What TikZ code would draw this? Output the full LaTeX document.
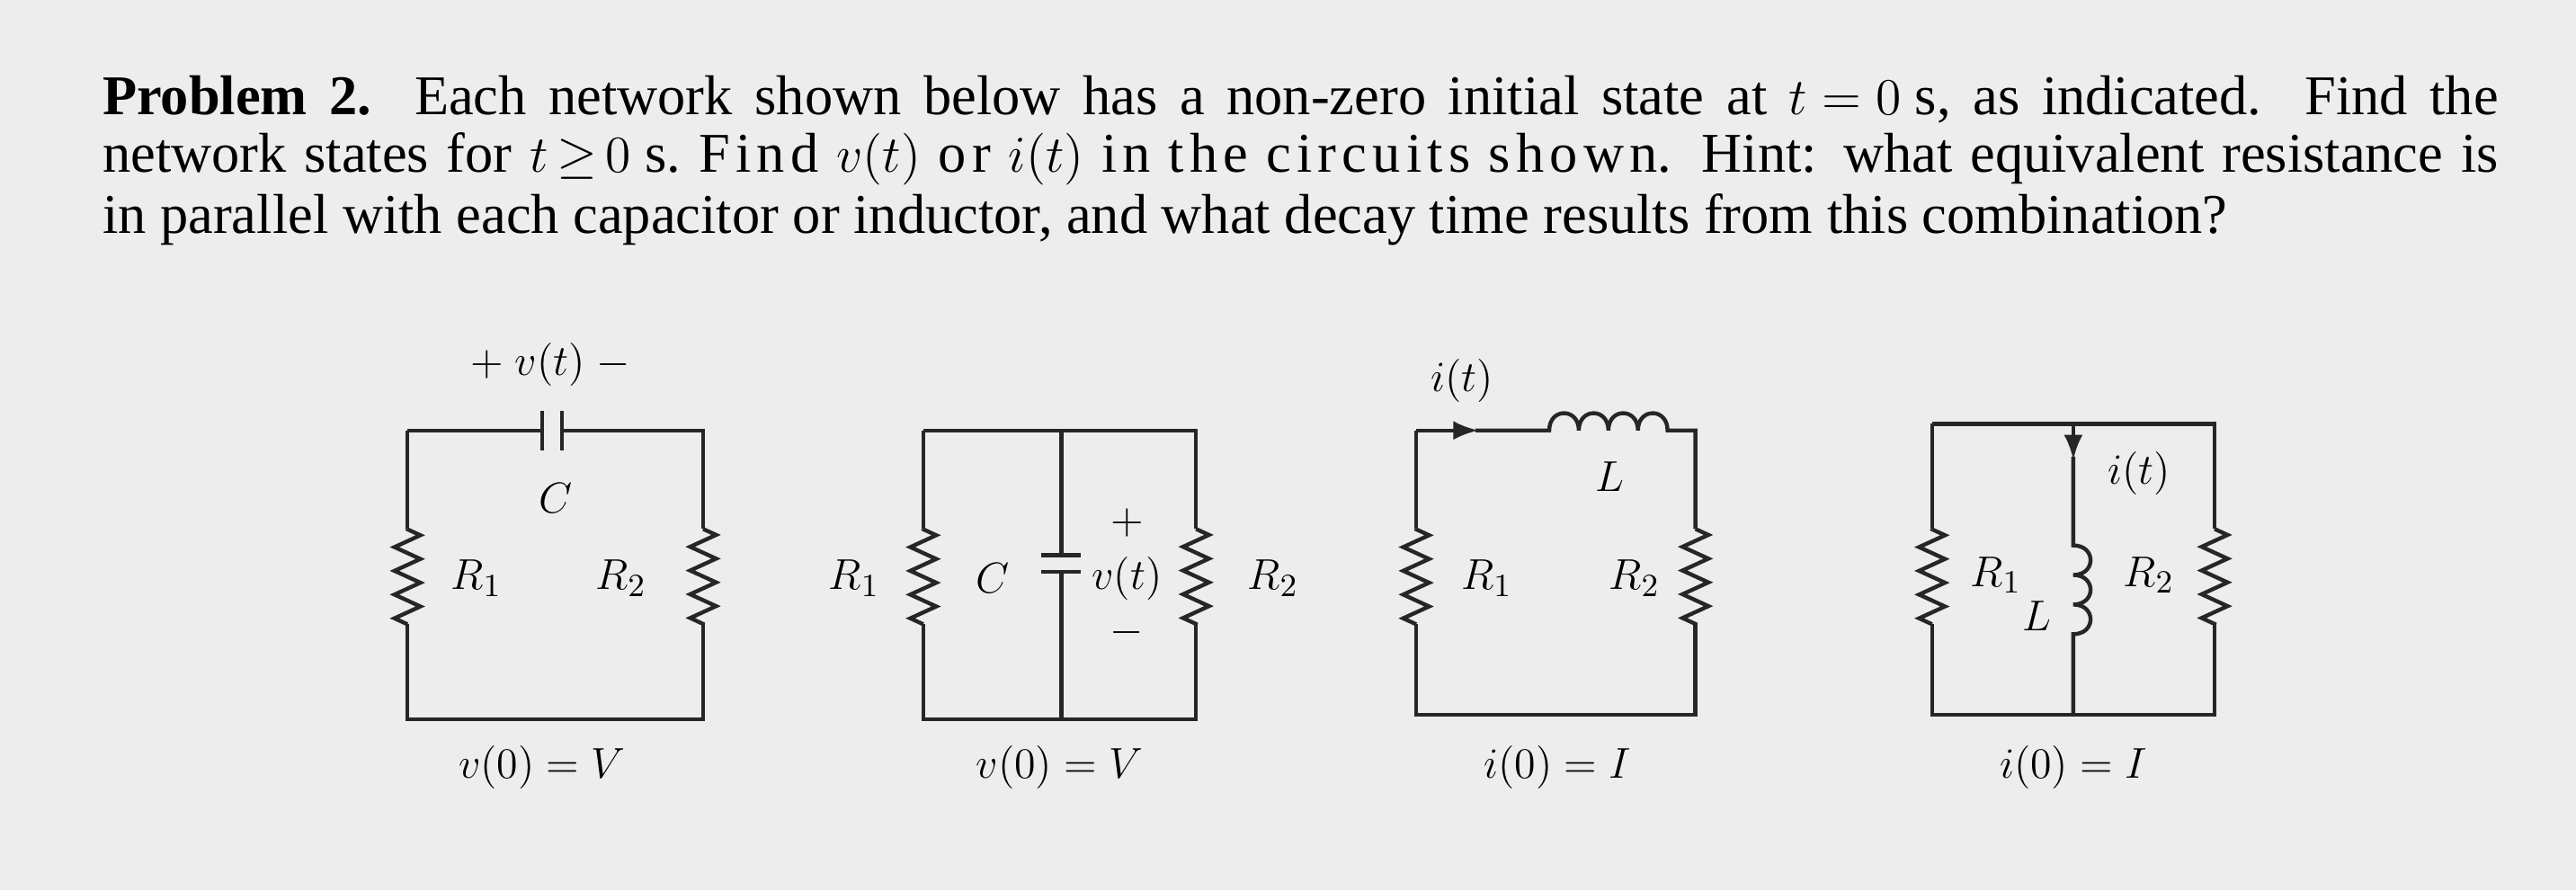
\documentclass[tikz,border=0pt]{standalone}
\usepackage{fontspec}
\setmainfont{Liberation Serif}
\usetikzlibrary{decorations.pathmorphing,arrows.meta}
\newcommand{\ls}{\hspace{0.1em}}
\tikzset{
  wire/.style={line width=1.1pt,black!85},
  res/.style={wire,decorate,decoration={zigzag,amplitude=3.6pt,segment length=6.6pt}},
  lbl/.style={font=\fontsize{12.5}{14}\selectfont},
  txt/.style={anchor=base west,inner sep=0pt,font=\fontsize{15.6}{18}\selectfont}
}
\begin{document}
\begin{tikzpicture}[x=0.4567pt,y=-0.4567pt]
\fill[gray!14] (0,0) rectangle (1568,542);
\useasboundingbox (0,0) rectangle (1568,542);
% text
\node[txt] (l1) at (62,70) {\makebox[666pt][s]{\textbf{Problem 2.} Each network shown below has a non-zero initial state at \mbox{$t\;{=}\;0$ s,} as indicated. Find the}};
\node[txt] (l2) at (62,105) {\makebox[666pt][s]{network states for \mbox{$t\,{\geq}\,0$ s.} F\ls i\ls n\ls d \mbox{$v(t)$} o\ls r \mbox{$i(t)$} i\ls n t\ls h\ls e c\ls i\ls r\ls c\ls u\ls i\ls t\ls s s\ls h\ls o\ls w\ls n. Hint: what equivalent resistance is}};
\node[txt] (l3) at (62,142) {in parallel with each capacitor or inductor, and what decay time results from this combination?};
% ---------- circuit 1
\coordinate (a1) at (248,262); \coordinate (b1) at (428,262);
\coordinate (c1) at (428,438); \coordinate (d1) at (248,438);
\draw[wire] (a1) -- (330,262) (342,262) -- (b1) -- (428,322);
\draw[wire] (330,250) -- (330,274) (342,250) -- (342,274);
\draw[res] (428,322) -- (428,380);
\draw[wire] (428,380) -- (c1) -- (d1) -- (248,380);
\draw[res] (248,380) -- (248,322);
\draw[wire] (248,322) -- (a1);
\node[lbl] (v1) at (335,222) {$+\ v(t)\ -$};
\node[lbl] (C1) at (338,303) {$C$};
\node[lbl] (R11) at (290,352) {$R_1$};
\node[lbl] (R21) at (378,352) {$R_2$};
\node[lbl] (i1) at (330,467) {$v(0) = V$};
% ---------- circuit 2
\coordinate (a2) at (562,262); \coordinate (b2) at (728,262);
\coordinate (c2) at (728,438); \coordinate (d2) at (562,438);
\draw[wire] (a2) -- (b2) -- (728,322);
\draw[res] (728,322) -- (728,380);
\draw[wire] (728,380) -- (c2) -- (d2) -- (562,380);
\draw[res] (562,380) -- (562,322);
\draw[wire] (562,322) -- (a2);
\draw[wire] (646,262) -- (646,338) (634,338) -- (658,338) (634,348) -- (658,348) (646,348) -- (646,438);
\node[lbl] (R12) at (520,352) {$R_1$};
\node[lbl] (C2) at (604,352) {$C$};
\node[lbl] (p2) at (686,318) {$+$};
\node[lbl] (v2) at (686,352) {$v(t)$};
\node[lbl] (m2) at (686,385) {$-$};
\node[lbl] (R22) at (775,352) {$R_2$};
\node[lbl] (i2) at (645,467) {$v(0) = V$};
% ---------- circuit 3
\coordinate (a3) at (862,262); \coordinate (b3) at (1032,262);
\coordinate (c3) at (1032,435); \coordinate (d3) at (862,435);
\draw[wire,-{Latex[length=7pt]}] (a3) -- (900,262);
\draw[wire] (898,262) -- (943,262)
  .. controls (943,248) and (961,248) .. (961,262)
  .. controls (961,248) and (979,248) .. (979,262)
  .. controls (979,248) and (997,248) .. (997,262)
  .. controls (997,248) and (1015,248) .. (1015,262) -- (b3) -- (1032,322);
\draw[res] (1032,322) -- (1032,380);
\draw[wire] (1032,380) -- (c3) -- (d3) -- (862,380);
\draw[res] (862,380) -- (862,322);
\draw[wire] (862,322) -- (a3);
\node[lbl] (it3) at (890,232) {$i(t)$};
\node[lbl] (L3) at (980,290) {$L$};
\node[lbl] (R13) at (905,352) {$R_1$};
\node[lbl] (R23) at (995,352) {$R_2$};
\node[lbl] (i3) at (948,467) {$i(0) = I$};
% ---------- circuit 4
\coordinate (a4) at (1176,258); \coordinate (b4) at (1348,258);
\coordinate (c4) at (1348,435); \coordinate (d4) at (1176,435);
\draw[wire] (a4) -- (b4) -- (1348,322);
\draw[res] (1348,322) -- (1348,380);
\draw[wire] (1348,380) -- (c4) -- (d4) -- (1176,380);
\draw[res] (1176,380) -- (1176,322);
\draw[wire] (1176,322) -- (a4);
\draw[wire,-{Latex[length=7pt]}] (1262,258) -- (1262,280);
\draw[wire] (1262,278) -- (1262,332)
  .. controls (1276,332) and (1276,350) .. (1262,350)
  .. controls (1276,350) and (1276,368) .. (1262,368)
  .. controls (1276,368) and (1276,386) .. (1262,386) -- (1262,435);
\node[lbl] (it4) at (1302,288) {$i(t)$};
\node[lbl] (L4) at (1240,375) {$L$};
\node[lbl] (R14) at (1215,350) {$R_1$};
\node[lbl] (R24) at (1308,350) {$R_2$};
\node[lbl] (i4) at (1262,467) {$i(0) = I$};
\end{tikzpicture}
\end{document}
